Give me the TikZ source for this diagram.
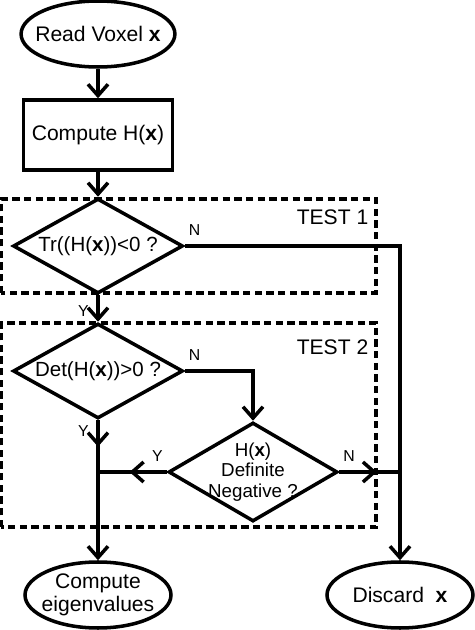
\documentclass[tikz,border=0pt]{standalone}
\usepackage{fontspec}
\setmainfont{Liberation Sans}
\usetikzlibrary{shapes.geometric,arrows.meta,decorations.markings}

\begin{document}
\begin{tikzpicture}[line width=3pt,>={Straight Barb[length=3.4mm,width=6mm]},
  term/.style={ellipse,draw,inner sep=-2.5mm,minimum width=4.38cm,minimum height=1.98cm,align=center,font=\fontsize{18}{20}\selectfont},
  proc/.style={rectangle,draw,inner sep=0pt,minimum width=4.47cm,minimum height=2.1cm,font=\fontsize{18}{20}\selectfont},
  test/.style={diamond,draw,shape aspect=1.8,inner sep=-1mm,minimum width=5.1cm,minimum height=2.85cm,align=center,font=\fontsize{17.5}{20}\selectfont},
  group/.style={draw,dash pattern=on 2.2mm off 1.3mm},
  grouptitle/.style={anchor=east,inner sep=0pt,font=\fontsize{18}{20}\selectfont},
  tag/.style={inner sep=2pt,font=\fontsize{13.5}{15}\selectfont},
  ntag/.style={tag,above right,yshift=1.8mm},
  ytag/.style={tag,above left,yshift=1.8mm},
  wtag/.style={tag,left,xshift=-1.6mm},
  midarrow/.style={postaction={decorate},decoration={markings,mark=at position #1 with {\arrow{>}}}}]
  \useasboundingbox (0,0) rectangle (14.22,18.9);

  \coordinate (j) at (2.94,4.74);
  \coordinate (k) at (12.0,4.74);

  \draw[group] (0.045,10.11) rectangle (11.28,12.93);
  \node[grouptitle] (t1) at (11.1,12.39) {TEST 1};
  \draw[group] (0.045,3.09) rectangle (11.28,9.21);
  \node[grouptitle] (t2) at (11.1,8.49) {TEST 2};

  \node[term] (read) at (2.94,17.88) {Read Voxel \textbf{x}};
  \node[proc] (hx) at (2.94,14.85) {Compute H(\textbf{x})};
  \node[test] (d1) at (2.94,11.52) {Tr((H(\textbf{x}))<0 ?};
  \node[test] (d2) at (2.94,7.77) {Det(H(\textbf{x}))>0 ?};
  \node[test,minimum height=2.97cm,minimum width=5.07cm,inner sep=-4mm,font=\fontsize{16}{17.5}\selectfont] (d3) at (7.59,4.74) {H(\textbf{x})\\Definite\\Negative ?};
  \node[term] (eig) at (2.94,1.05) {Compute\\eigenvalues};
  \node[term] (discard) at (12.0,1.05) {Discard\ \ \textbf{x}};

  \draw[->] (read) -- (hx);
  \draw[->] (hx) -- (d1);
  \draw[->] (d1.south) -- (d2.north) node[wtag,pos=0.6] {Y};
  \draw[->] (d1.east) node[ntag] {N} -| (discard.north);
  \draw[->] (d2.east) node[ntag] {N} -| (d3.north);
  \draw[midarrow=0.51] (d2.south) -- (j) node[wtag,pos=0.2] {Y};
  \draw[midarrow=0.54] (d3.west) node[ytag] {Y} -- (j);
  \draw[midarrow=0.62] (d3.east) node[ntag] {N} -- (k);
  \draw[->] (j) -- (eig);
\end{tikzpicture}
\end{document}
